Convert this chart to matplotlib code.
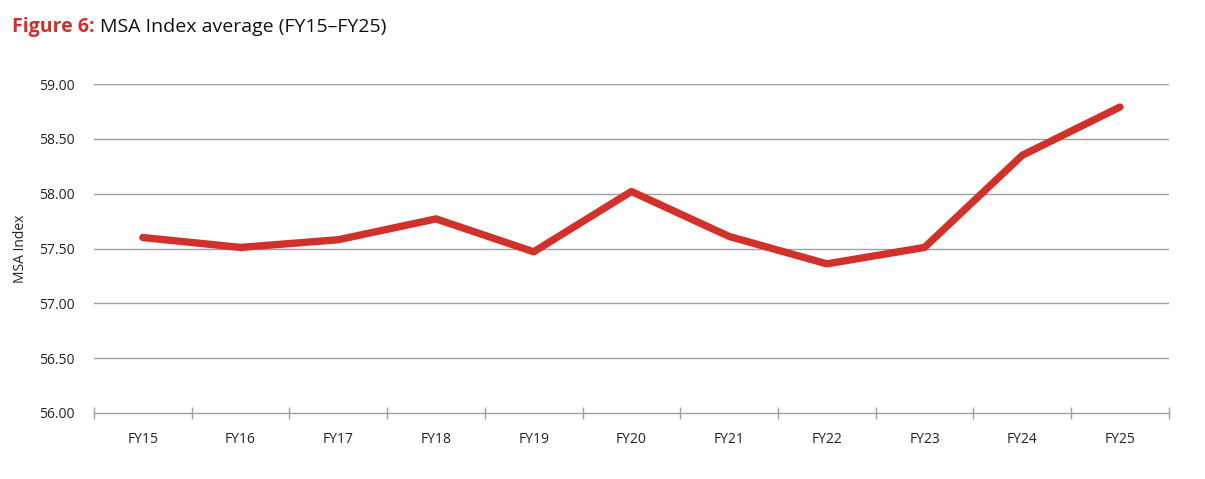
import numpy as np
import matplotlib.pyplot as plt

plt.rcParams['font.family'] = ['Open Sans', 'DejaVu Sans']

years = ['FY15', 'FY16', 'FY17', 'FY18', 'FY19', 'FY20', 'FY21', 'FY22', 'FY23', 'FY24', 'FY25']
msa = [57.60, 57.51, 57.58, 57.77, 57.47, 58.02, 57.61, 57.36, 57.51, 58.35, 58.79]
yticks = [56.0, 56.5, 57.0, 57.5, 58.0, 58.5, 59.0]

red = '#d2302a'
grid_col = '#a0a0a0'

fig = plt.figure(figsize=(12.05, 4.79), dpi=100)
ax = fig.add_axes([0.078, 0.1378, 0.892, 0.6868])

x = np.arange(len(years))
ax.plot(x, msa, color=red, lw=5.3, solid_capstyle='round', solid_joinstyle='round', zorder=3)

ax.set_xlim(-0.5, len(years) - 0.5)
ax.set_ylim(56.0, 59.0)
ax.set_yticks(yticks)
ax.set_yticklabels([f'{v:.2f}' for v in yticks], fontsize=10, color='#222222')
ax.tick_params(axis='y', length=0, pad=14)

# category labels in the middle, tick marks on the band edges
ax.set_xticks(x)
ax.set_xticklabels(years, fontsize=10, color='#222222')
ax.tick_params(axis='x', which='major', length=0, pad=14)
ax.set_xticks(np.arange(-0.5, len(years)), minor=True)
ax.tick_params(axis='x', which='minor', length=8, width=1, color=grid_col, direction='inout')

for v in yticks[1:]:
    ax.axhline(v, color=grid_col, lw=1, zorder=1)

for s in ['top', 'right', 'left']:
    ax.spines[s].set_visible(False)
ax.spines['bottom'].set_color(grid_col)
ax.spines['bottom'].set_linewidth(1)

ax.set_ylabel('MSA Index', fontsize=10, color='#222222', labelpad=8)

fig.text(0.010, 0.943, 'Figure 6:', fontsize=14, fontweight='bold', color=red, va='center')
fig.text(0.083, 0.943, 'MSA Index average (FY15\u2013FY25)', fontsize=14, color='#111111', va='center')

fig.savefig('out.png', dpi=100)
